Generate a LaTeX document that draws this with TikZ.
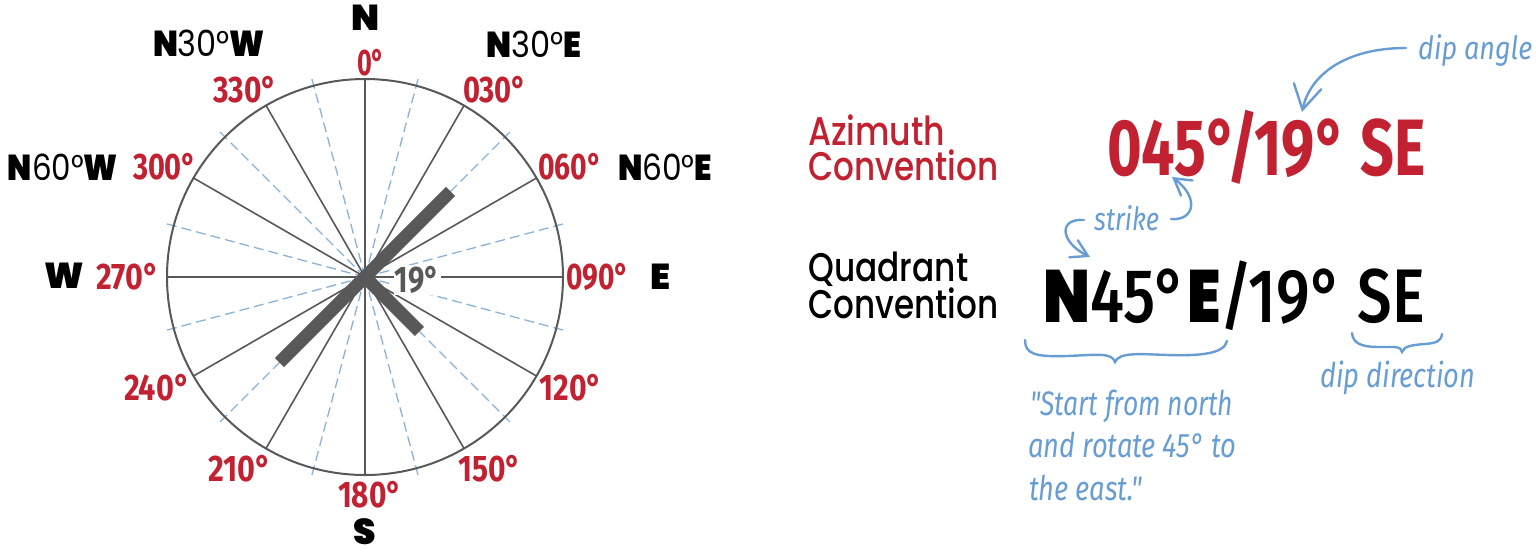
\documentclass[tikz,border=0pt]{standalone}
\usepackage{fontspec}
\usepackage{graphicx}
\usetikzlibrary{arrows.meta,calc}
\newfontfamily\fira{Fira Sans}
\newfontfamily\firamed{Fira Sans Medium}
\newfontfamily\pop{Poppins}
\newfontfamily\popmed{Poppins Medium}
\newfontfamily\popblk{Poppins Black}
\definecolor{myred}{RGB}{193,33,48}
\definecolor{myblue}{RGB}{104,157,212}
\definecolor{dashblue}{RGB}{140,178,214}
\definecolor{mygray}{RGB}{88,88,88}
\newcommand\fitw[2]{\resizebox{#1}{\height}{#2}}
\newcommand\fs[1]{\fontsize{#1}{#1}\selectfont}
\newcommand\hv[1]{{\popblk #1}}
\begin{document}
\begin{tikzpicture}[x=1pt,y=-1pt,
  dashline/.style={draw=dashblue,line width=1.3pt,dash pattern=on 10pt off 5pt},
  spoke/.style={draw=mygray,line width=1.6pt},
  rim/.style={draw=mygray,line width=2pt},
  bar/.style={draw=mygray,line width=13pt},
  redlbl/.style={text=myred,inner sep=0pt,font=\fira\bfseries\fs{37}},
  blklbl/.style={text=black,inner sep=0pt,font=\pop\fs{36}},
  conv/.style={anchor=base west,inner sep=0pt,align=left,font=\popmed\fontsize{40}{35}\selectfont},
  annot/.style={anchor=base west,inner sep=0pt,text=myblue,font=\fira\itshape\fs{34}},
  bluearrow/.style={draw=myblue,line width=2.4pt,line cap=round},
  bluebrace/.style={draw=myblue,line width=2.4pt,line cap=round}
]
\useasboundingbox (0,0) rectangle (1536,555);
\coordinate (C) at (365,277);
% dashed rays
\foreach \b in {15,45,...,345} \draw[dashline] (C) -- ++(\b-90:208);
% solid rays
\foreach \b in {0,30,...,330} \draw[spoke] (C) -- ++(\b-90:198);
\draw[rim] (C) circle[radius=198];
% strike and dip bars
\draw[bar] ($(C)+(135:121)$) -- ($(C)+(-45:121)$);
\draw[bar] (C) -- ++(45:77);
\node[inner sep=1pt,fill=white,text=mygray,font=\fira\bfseries\fs{37}] (dipval) at (417,280) {\fitw{45pt}{19°}};
% red azimuth labels
\node[redlbl] (a0) at (371,63) {\fitw{28pt}{0°}};
\node[redlbl] (a30) at (495,90) {\fitw{64pt}{030°}};
\node[redlbl] (a60) at (570,167) {\fitw{64pt}{060°}};
\node[redlbl] (a90) at (598,277) {\fitw{63pt}{090°}};
\node[redlbl] (a120) at (571,388) {\fitw{63pt}{120°}};
\node[redlbl] (a150) at (490,469) {\fitw{63pt}{150°}};
\node[redlbl] (a180) at (370,495) {\fitw{64pt}{180°}};
\node[redlbl] (a210) at (240,469) {\fitw{63pt}{210°}};
\node[redlbl] (a240) at (157,388) {\fitw{66pt}{240°}};
\node[redlbl] (a270) at (128,277) {\fitw{63pt}{270°}};
\node[redlbl] (a300) at (165,167) {\fitw{64pt}{300°}};
\node[redlbl] (a330) at (245,90) {\fitw{64pt}{330°}};
% black quadrant labels
\node[blklbl] (qN) at (366,18) {\hv{N}};
\node[blklbl] (qS) at (365,532) {\hv{S}};
\node[blklbl] (qE) at (660,277) {\hv{E}};
\node[blklbl] (qW) at (64,276) {\hv{W}};
\node[blklbl] (qNE30) at (534,44) {\fitw{95pt}{\hv{N}30°\hv{E}}};
\node[blklbl] (qNW30) at (209,43) {\fitw{112pt}{\hv{N}30°\hv{W}}};
\node[blklbl] (qNE60) at (665,167) {\fitw{94pt}{\hv{N}60°\hv{E}}};
\node[blklbl] (qNW60) at (63,167) {\fitw{110pt}{\hv{N}60°\hv{W}}};
% convention titles (base = last line)
\node[conv,text=myred] (az) at (808,180) {\fitw{137pt}{Azimuth}\\\fitw{190pt}{Convention}};
\node[conv,text=black] (qd) at (808,318) {\fitw{160pt}{Quadrant}\\\fitw{190pt}{Convention}};
% big notations
\node[anchor=base west,inner sep=0pt,text=myred,font=\fira\bfseries\fs{80}] (aznot) at (1107,175) {\fitw{318pt}{045°/19° SE}};
\node[anchor=base west,inner sep=0pt,text=black,font=\firamed\fs{76}] (qdnot) at (1043,322) {\fitw{382pt}{{\popblk\fs{74}N}45°{\popblk\fs{74}E}/19° SE}};
% annotations
\node[annot,font=\fira\itshape\fs{32}] (tdip) at (1418,59) {\fitw{114pt}{dip angle}};
\node[annot,font=\fira\itshape\fs{32}] (tstrike) at (1094,230) {\fitw{65pt}{strike}};
\node[annot] (tdipdir) at (1320,387) {\fitw{155pt}{dip direction}};
\node[annot] (tq1) at (1030,415) {\fitw{203pt}{"Start from north}};
\node[annot] (tq2) at (1028,457) {\fitw{208pt}{and rotate 45° to}};
\node[annot] (tq3) at (1029,500) {\fitw{113pt}{the east."}};
% arrows
\coordinate (dipS) at (1406,48);
\coordinate (dipT) at (1302,112);
\coordinate (stAS) at (1171,219);
\coordinate (stAT) at (1172,177);
\coordinate (stBS) at (1084,220);
\coordinate (stBT) at (1090,257);
\draw[bluearrow,-{Straight Barb[length=24pt,width=28pt,line cap=round]}] (dipS) .. controls (1345,48) and (1310,75) .. (dipT);
\draw[bluearrow,-{Straight Barb[length=16pt,width=19pt,line cap=round]}] (stAS) .. controls (1194,221) and (1200,198) .. (stAT);
\draw[bluearrow,-{Straight Barb[length=16pt,width=19pt,line cap=round]}] (stBS) .. controls (1058,218) and (1060,242) .. (stBT);
% braces
\draw[bluebrace] (1025,340) .. controls (1025,354) and (1035,357) .. (1067,356)
  .. controls (1095,355) and (1112,352) .. (1115,362)
  .. controls (1119,352) and (1140,354) .. (1167,355)
  .. controls (1200,356) and (1224,354) .. (1227,341);
\draw[bluebrace] (1352,333) .. controls (1353,344) and (1362,347) .. (1380,347)
  .. controls (1395,347) and (1401,346) .. (1402,352)
  .. controls (1404,346) and (1412,345) .. (1425,344)
  .. controls (1437,343) and (1441,341) .. (1442,334);
\end{tikzpicture}
\end{document}
